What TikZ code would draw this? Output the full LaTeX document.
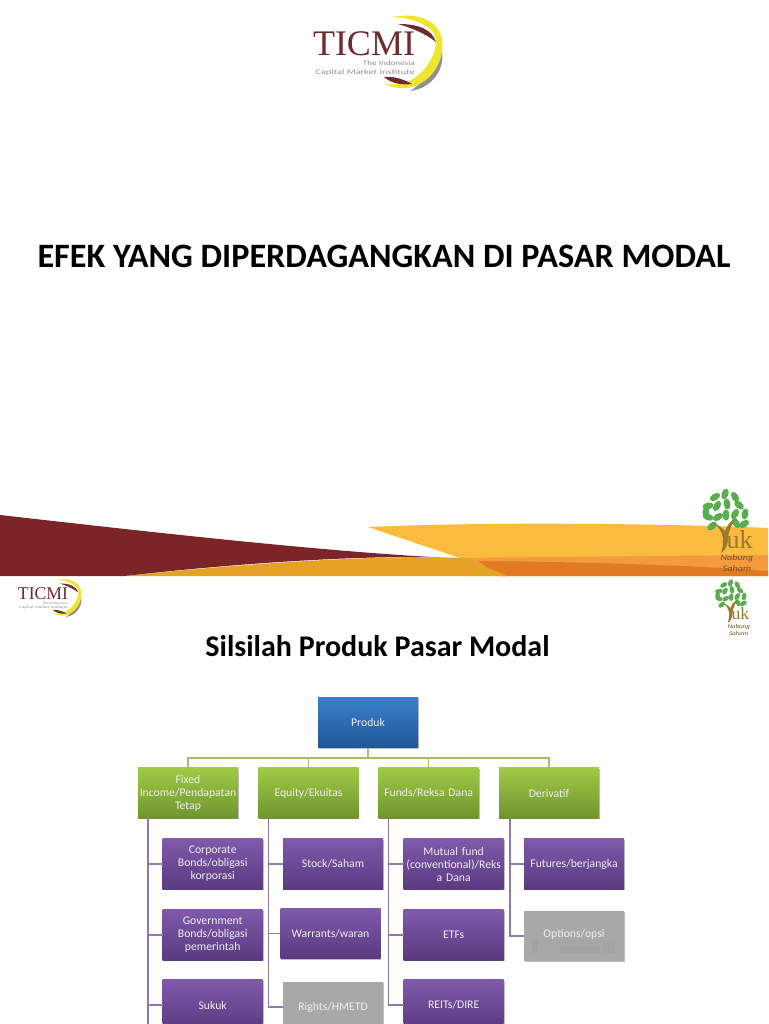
\documentclass[tikz,border=0pt]{standalone}
\usepackage{fontspec}
\setmainfont{Carlito}
\newfontfamily\logoserif{Liberation Serif}
\usetikzlibrary{shadows,calc}
\definecolor{maroonband}{HTML}{7B2528}
\definecolor{golda}{HTML}{FBBB3F}
\definecolor{goldb}{HTML}{E5A326}
\definecolor{orangea}{HTML}{F59B3D}
\definecolor{orangeb}{HTML}{E07B22}
\definecolor{leafgreen}{HTML}{58AD4C}
\definecolor{barkbrown}{HTML}{9A7A2E}
\definecolor{ticmired}{HTML}{6E2A2E}
\definecolor{ticmiyellow}{HTML}{EFE52E}
\definecolor{ticmigrey}{HTML}{8F8F96}
\definecolor{linegreen}{HTML}{A3BF6A}
\definecolor{linepurple}{HTML}{8E78B4}
\definecolor{boxtext}{HTML}{EEEEEE}
\definecolor{rootTop}{HTML}{3A7FCC}
\definecolor{rootBot}{HTML}{1F5796}
\definecolor{catTop}{HTML}{A0CA44}
\definecolor{catBot}{HTML}{6F9430}
\definecolor{itemTop}{HTML}{8059AB}
\definecolor{itemBot}{HTML}{5A3A80}
\definecolor{offGrey}{HTML}{A8A8A8}
\tikzset{
  x=1pt,y=-1pt,
  basebox/.style={minimum width=100pt,minimum height=50.5pt,inner sep=0pt,text width=100pt,align=center,
    font=\fontsize{11.7}{13}\selectfont,text=boxtext,
    drop shadow={shadow xshift=.8pt,shadow yshift=-1pt,opacity=.25,fill=black}},
  rootbox/.style={basebox,top color=rootTop,bottom color=rootBot},
  catbox/.style={basebox,top color=catTop,bottom color=catBot},
  itembox/.style={basebox,top color=itemTop,bottom color=itemBot},
  offbox/.style={basebox,fill=offGrey},
  busline/.style={draw=linegreen,line width=1.1pt},
  treeline/.style={draw=linepurple,line width=1.2pt},
  leaf/.style={fill=leafgreen,draw=none},
  slidetitle/.style={text=black,inner sep=0pt},
  logotext/.style={inner sep=0pt,text=ticmigrey}
}
\newcommand{\ticmilogo}{%
  \fill[ticmigrey] (439,43) .. controls (449,62) and (436,88) .. (410,91)
     .. controls (425,82) and (436,66) .. (439,43) -- cycle;
  \fill[ticmiyellow] (392,17) .. controls (425,11) and (446,25) .. (442,52)
     .. controls (438,78) and (412,97) .. (385,84)
     .. controls (410,88) and (431,70) .. (436,45)
     .. controls (439,30) and (420,18) .. (392,17) -- cycle;
  \fill[ticmired] (398,24) .. controls (420,24) and (432,30) .. (436,42)
     .. controls (426,34) and (412,28) .. (398,24) -- cycle;
  \fill[ticmired] (384,77) .. controls (395,76) and (405,80) .. (412,84)
     .. controls (402,85) and (392,84) .. (384,77) -- cycle;
  \node[logotext,text=ticmired,transform shape] (ticmiword\logoid) at (364,43.5)
     {\logoserif\fontsize{36}{36}\selectfont TICMI};
  \node[logotext,transform shape,anchor=east,xscale=1.3] (ticmitag\logoid) at (415,63.5)
     {\fontsize{7}{7}\selectfont The Indonesia};
  \node[logotext,transform shape,anchor=east,xscale=1.48] (ticmisub\logoid) at (415,72.5)
     {\fontsize{7}{7}\selectfont Capital Market Institute};
}
\newcommand{\juklogo}{%
  \foreach \lx/\ly/\la in {725/494/70,715/497/30,735/497/120,708/506/10,717/506/60,727/504/100,
     739/505/140,745/514/80,708/517/160,735/514/60,718/517/30,744/524/30,712/526/40,726/515/90,
     706/512/90,736/523/120}{
    \fill[leaf,rotate around={\la:(\lx,\ly)}] (\lx,\ly) ellipse (5.6 and 3.4);
  }
  \fill[barkbrown] (712,522) .. controls (719,525) and (723,529) .. (725,531)
     .. controls (727,526) and (730,521) .. (735,519)
     .. controls (732,525) and (728,532) .. (728,538)
     .. controls (728,544) and (726,550) .. (721,553)
     .. controls (723,548) and (723,544) .. (723,538)
     .. controls (722,531) and (718,526) .. (712,522) -- cycle;
  \node[inner sep=0pt,text=barkbrown,transform shape] (jukuk\logoid) at (739.5,539.5)
     {\logoserif\fontsize{26}{26}\selectfont uk};
  \node[inner sep=0pt,text=barkbrown!70!black,transform shape,xscale=1.2] (juknab\logoid) at (737,558.5)
     {\itshape\fontsize{8.5}{8.5}\selectfont Nabung};
  \node[inner sep=0pt,text=barkbrown!70!black,transform shape,xscale=1.2] (juksak\logoid) at (737,569)
     {\itshape\fontsize{8.5}{8.5}\selectfont Saham};
}
\begin{document}
\begin{tikzpicture}
\useasboundingbox (0,0) rectangle (768,1024);
\clip (0,0) rectangle (768,1024);
\fill[white] (0,0) rectangle (768,1024);
% wave band of the first slide
\fill[orangea] (465,557) -- (768,553) -- (768,576) -- (465,576) -- cycle;
\fill[orangeb] (478,561) .. controls (600,562) and (700,566) .. (768,571) -- (768,576) -- (500,576) -- cycle;
\fill[golda] (368,527) .. controls (480,522) and (650,523) .. (768,528) -- (768,555)
   .. controls (650,556) and (540,557) .. (460,558) -- cycle;
\fill[goldb] (125,576) .. controls (230,565) and (340,557) .. (431,557) -- (465,558) -- (507,576) -- cycle;
\fill[maroonband] (0,515) .. controls (150,532) and (310,550) .. (431,557)
   .. controls (340,556) and (220,565) .. (125,576) -- (0,576) -- cycle;
% logos
\def\logoid{a}\ticmilogo
\begin{scope}[shift={(-135.4,571.5)},xscale=.49,yscale=.5]
\def\logoid{b}\ticmilogo
\end{scope}
\def\logoid{c}\juklogo
\begin{scope}[shift={(237.5,247)},scale=.68]
\def\logoid{d}\juklogo
\end{scope}
% titles
\node[slidetitle,font=\bfseries\fontsize{34.2}{36}\selectfont] (title) at (384,256) {EFEK YANG DIPERDAGANGKAN DI PASAR MODAL};
\node[slidetitle,font=\bfseries\fontsize{30}{32}\selectfont] (subtitle) at (377.5,646) {Silsilah Produk Pasar Modal};
% boxes
\node[rootbox] (prod) at (368,722.5) {Produk};
\node[catbox] (fixed) at (188,793) {Fixed\\Income/Pendapatan\\Tetap};
\node[catbox] (equity) at (308.5,793) {Equity/Ekuitas};
\node[catbox] (funds) at (428.7,793) {Funds/Reksa Dana};
\node[catbox] (deriv) at (549,793) {Derivatif};
\node[itembox] (corp) at (212.7,864) {Corporate\\Bonds/obligasi\\korporasi};
\node[itembox] (gov) at (212.7,935) {Government\\Bonds/obligasi\\pemerintah};
\node[itembox] (sukuk) at (212.7,1005) {Sukuk};
\node[itembox] (stock) at (333,864) {Stock/Saham};
\node[itembox] (warr) at (330.5,933.5) {Warrants/waran};
\node[offbox] (rights) at (333,1007) {Rights/HMETD};
\node[itembox] (mutual) at (453.7,864) {Mutual fund\\(conventional)/Reks\\a Dana};
\node[itembox] (etf) at (453.7,935) {ETFs};
\node[itembox] (reit) at (453.7,1005) {REITs/DIRE};
\node[itembox] (fut) at (574,864) {Futures/berjangka};
\node[offbox] (opt) at (574,936) {};
\node[inner sep=0pt,font=\fontsize{11.7}{13}\selectfont,text=boxtext] (optlabel) at (574,934) {Options/opsi};
% smudges in the options box
\fill[black!40,opacity=.35] (532,941) rectangle (538,953);
\fill[black!40,opacity=.28] (560,946) rectangle (600,953);
\fill[black!40,opacity=.3] (603,945) rectangle (615,953);
\fill[black!40,opacity=.12] (532,940) rectangle (615,945);
% connectors
\coordinate (bus) at ($(prod.south)+(0,10)$);
\draw[busline] (prod.south) -- (bus);
\draw[busline] (bus) -| (fixed.north);
\draw[busline] (bus) -| (equity.north);
\draw[busline] (bus) -| (funds.north);
\draw[busline] (bus) -| (deriv.north);
\coordinate (fixedend) at (148,1024);
\draw[treeline] ([xshift=-40pt]fixed.south) -- (fixedend);
\draw[treeline] ([xshift=-40pt]fixed.south) |- (corp.west);
\draw[treeline] ([xshift=-40pt]fixed.south) |- (gov.west);
\draw[treeline] ([xshift=-40pt]fixed.south) |- (sukuk.west);
\draw[treeline] ([xshift=-40pt]equity.south) |- (stock.west);
\draw[treeline] ([xshift=-40pt]equity.south) |- (warr.west);
\draw[treeline] ([xshift=-40pt]equity.south) |- (rights.west);
\draw[treeline] ([xshift=-40pt]funds.south) |- (mutual.west);
\draw[treeline] ([xshift=-40pt]funds.south) |- (etf.west);
\draw[treeline] ([xshift=-40pt]funds.south) |- (reit.west);
\draw[treeline] ([xshift=-39pt]deriv.south) |- (fut.west);
\draw[treeline] ([xshift=-39pt]deriv.south) |- (opt.west);
\end{tikzpicture}
\end{document}
